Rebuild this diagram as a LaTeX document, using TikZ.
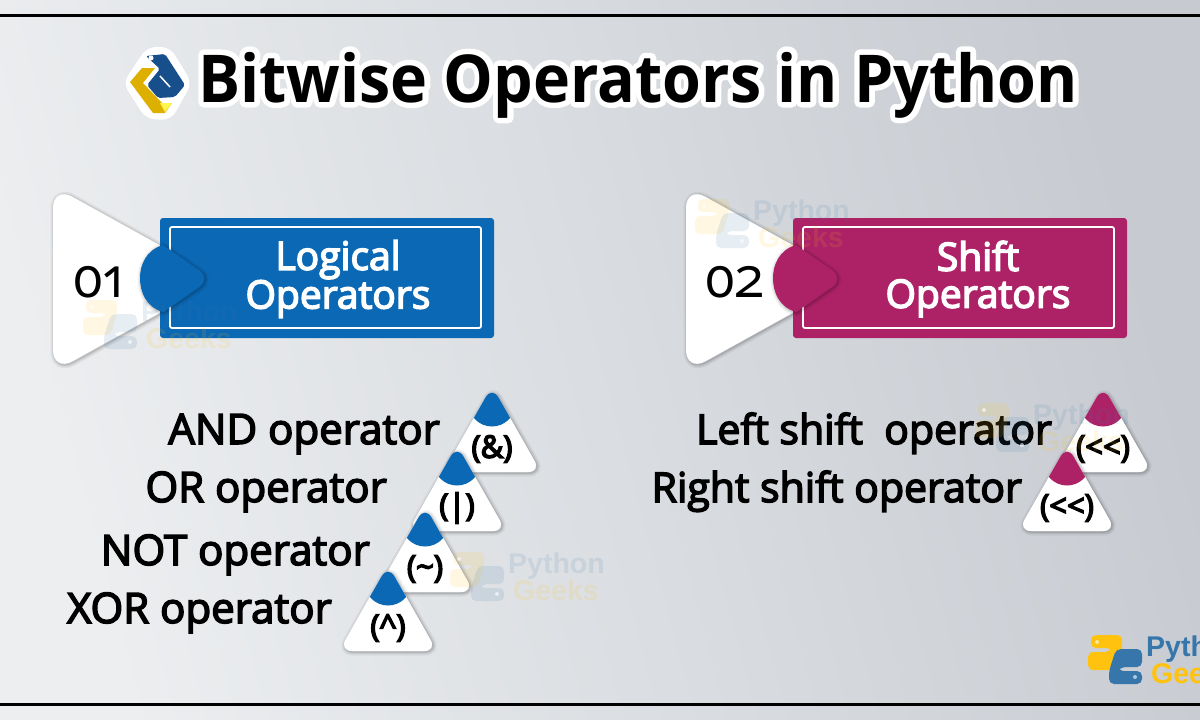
\documentclass[tikz,border=0pt]{standalone}
\usepackage{fontspec}
\setmainfont{Open Sans}
\usetikzlibrary{positioning, calc}
\newfontfamily\titlefont{Open Sans Bold}[FakeStretch=0.95]
\newfontfamily\numfont{Open Sans}[Numbers=OldStyle]
\newfontfamily\wmfont{Liberation Sans Bold}
\definecolor{opblue}{HTML}{0B68B4}
\definecolor{opmagenta}{HTML}{AD2267}
\definecolor{pyyellow}{HTML}{FFC20E}
\definecolor{pyblue}{HTML}{3776AB}
\definecolor{logoblue}{HTML}{174E8C}
\definecolor{logoyellow}{HTML}{DDB000}
\definecolor{bgleft}{HTML}{ECEEF0}
\definecolor{bgmid}{HTML}{DADDE1}
\definecolor{bgright}{HTML}{C7CBD1}
\newcommand{\halotext}[1]{\leavevmode
    \rlap{\special{pdf:code q 2 Tr 11 w 1 J 1 j 1 1 1 RG}\textcolor{white}{#1}\special{pdf:code Q}}#1}
\newcommand{\semi}[1]{\leavevmode\special{pdf:code q 2 Tr 1.5 w}#1\special{pdf:code Q}}
\tikzset{
    softshadow/.style={
        preaction={draw=black, opacity=0.05, line width=7pt, transform canvas={xshift=1pt, yshift=-1pt}},
        preaction={draw=black, opacity=0.07, line width=4pt, transform canvas={xshift=1pt, yshift=-1pt}},
        preaction={draw=black, opacity=0.10, line width=1.5pt, transform canvas={xshift=1pt, yshift=-1pt}}
    },
    optext/.style={anchor=base east, inner sep=0pt, font=\fontsize{42}{42}\selectfont},
    shifttext/.style={optext, font=\fontsize{41}{41}\selectfont},
    symtext/.style={inner sep=0pt, font=\fontsize{31}{31}\selectfont},
    numtext/.style={anchor=base west, inner sep=0pt, font=\numfont\fontsize{56}{56}\selectfont},
    headtext/.style={inner sep=0pt, align=center, text=white, font=\fontsize{39}{37}\selectfont},
    pylogo/.pic={
        \fill [pyyellow, rounded corners=5pt] (3,0) -- (34,0) -- (34,13) -- (28,35) -- (0,35) -- (0,17) -- (22,17) -- (24,13) -- (3,13) -- cycle;
        \fill [pyblue, rounded corners=5pt] (54,49) -- (21,49) -- (21,36) -- (28,14) -- (54,14) -- (54,32) -- (32,32) -- (30,36) -- (54,36) -- cycle;
        \fill [white, opacity=0.6] (9,7) circle [radius=2] (47,42) circle [radius=2];
        \node [anchor=base west, inner sep=0pt, text=pyblue, font=\wmfont\fontsize{28.5}{28.5}\selectfont] (py) at (58,21) {Python};
        \node [anchor=base west, inner sep=0pt, text=pyyellow, font=\wmfont\fontsize{28.5}{28.5}\selectfont] (gk) at (63,48) {Geeks};
    }
}
% big triangle, x offset in #1
\newcommand{\bigtri}[1]{
    \fill [white, softshadow, rounded corners=22pt] (#1+53,186) -- (#1+221,279) -- (#1+53,372) -- cycle;
}
\newcommand{\headbox}[2]{
    \fill [#2, rounded corners=3pt] (#1+160,218) rectangle (#1+494,338);
    \draw [white, line width=1.8pt, rounded corners=2pt] (#1+170,227) rectangle (#1+481,328);
    \fill [#2, softshadow] (#1+163,245) .. controls (#1+146,250) and (#1+140,265) .. (#1+140,278)
        .. controls (#1+140,292) and (#1+146,307) .. (#1+163,312) -- (#1+199,287)
        .. controls (#1+206,282) and (#1+206,275) .. (#1+199,270) -- cycle;
}
% small triangle: apex x, base y, colour, name, symbol
\newcommand{\optri}[5]{
    \fill [white, softshadow, rounded corners=13pt] (#1-49,#2) -- (#1,#2-86) -- (#1+49,#2) -- cycle;
    \begin{scope}
        \clip [rounded corners=13pt] (#1-49,#2) -- (#1,#2-86) -- (#1+49,#2) -- cycle;
        \fill [#3] (#1,#2-69) circle [radius=23.5];
    \end{scope}
    \node [symtext] (#4) at (#1,#2-23) {\semi{#5}};
}
\begin{document}
\begin{tikzpicture}[x=1pt, y=-1pt]
    \useasboundingbox (0,0) rectangle (1200,720);
    \shade [left color=bgleft, middle color=bgmid, right color=bgright, shading angle=105] (0,0) rectangle (1200,720);
    \draw [black, line width=3pt] (0,15) -- (1200,15);
    \draw [black, line width=3pt] (0,704) -- (1200,704);

    % title
    \fill [white, rounded corners=9pt] (123,83) -- (147,47) -- (170,47) -- (192,83) -- (171,120) -- (146,119) -- cycle;
    \fill [logoblue, rounded corners=2pt] (146,56) -- (165,54) -- (185,85) -- (175,97) -- (158,98) -- (147,85) -- (160,69) -- cycle;
    \fill [white] (151,58) circle [radius=2.5];
    \draw [white, line width=1.5pt] (160,76) -- (170,87);
    \fill [logoyellow] (130,82) -- (142,68) -- (155,68) -- (143,83) -- (162,103) -- (172,103) -- (165,113) -- (153,113) -- cycle;
    \fill [yellow!70!white] (160,103) -- (172,103) -- (165,112) -- cycle;
    \node [anchor=base west, inner sep=0pt, font=\titlefont\fontsize{66}{66}\selectfont] (title) at (198,102) {\halotext{Bitwise Operators in Python}};

    % left group
    \bigtri{0}
    \headbox{0}{opblue}
    \node [numtext] (numa) at (72,297) {01};
    \node [headtext] (heada) at (338,279) {\semi{Logical}\\\semi{Operators}};

    \node [optext] (opand) at (440,444) {\semi{AND operator}};
    \node [optext] (opor) at (387,502) {\semi{OR operator}};
    \node [optext] (opnot) at (370,565) {\semi{NOT operator}};
    \node [optext] (opxor) at (332,623) {\semi{XOR operator}};
    \optri{492}{472}{opblue}{symand}{(\&)}
    \optri{457}{531}{opblue}{symor}{(|)}
    \optri{425}{592}{opblue}{symnot}{(\textasciitilde)}
    \optri{388}{651}{opblue}{symxor}{(\textasciicircum)}

    % right group
    \bigtri{633}
    \headbox{633}{opmagenta}
    \node [numtext] (numb) at (704,297) {02};
    \node [headtext] (headb) at (978,279) {\semi{Shift}\\\semi{Operators}};

    \node [shifttext] (opleft) at (1052,444) {\semi{Left shift\ \ operator}};
    \node [shifttext] (opright) at (1022,502) {\semi{Right shift operator}};
    \optri{1103}{472}{opmagenta}{symleft}{(<{}<)}
    \optri{1067}{531}{opmagenta}{symright}{(<{}<)}

    % watermarks on top
    \pic [opacity=0.12] at (83,300) {pylogo};
    \pic [opacity=0.12] at (695,199) {pylogo};
    \pic [opacity=0.12] at (975,403) {pylogo};
    \pic [opacity=0.12] at (450,552) {pylogo};
    \pic at (1088,635) {pylogo};
\end{tikzpicture}
\end{document}
